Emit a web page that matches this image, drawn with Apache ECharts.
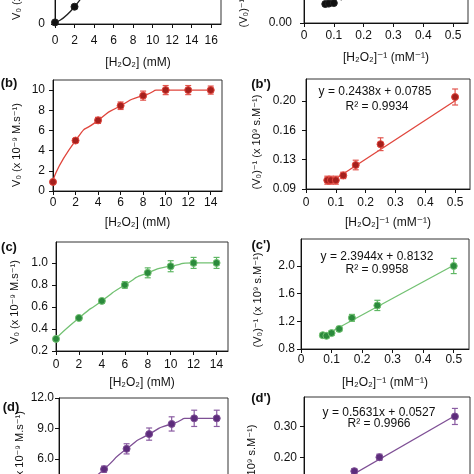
<!DOCTYPE html>
<html><head><meta charset="utf-8">
<script src="https://cdn.jsdelivr.net/npm/echarts@6/dist/echarts.min.js"></script>
<style>html,body{margin:0;padding:0;background:#fff}#c{width:474px;height:474px}</style>
</head><body><div id="c"></div>
<script>
// ---- data ----
const xConc = [0, 2, 4, 6, 8, 10, 12, 14];
const xInv = [0.0714, 0.0833, 0.1, 0.125, 0.1667, 0.25, 0.5];

const aV0 = [0.3, 3.2, 9.0, 13.0, 15.5, 17.0, 17.8, 18.2];
const aInvV0 = [0.1, 0.102, 0.105, 0.14, 0.17, 0.23, 0.36];

const bV0 = [0.9, 5.0, 7.0, 8.45, 9.45, 10.0, 10.0, 10.0];
const bV0Err = [0.15, 0.15, 0.3, 0.37, 0.45, 0.45, 0.45, 0.4];
const bInvV0 = [0.101, 0.101, 0.101, 0.107, 0.12, 0.146, 0.205];
const bInvErr = [0.005, 0.005, 0.005, 0.004, 0.006, 0.008, 0.01];
const bFit = { m: 0.2438, c: 0.0785, r2: '0.9934' };

const cV0 = [0.31, 0.5, 0.655, 0.8, 0.91, 0.97, 1.0, 1.0];
const cV0Err = [0.015, 0.01, 0.02, 0.03, 0.045, 0.05, 0.05, 0.05];
const cInvV0 = [1.0, 0.99, 1.03, 1.09, 1.25, 1.43, 2.0];
const cInvErr = [0.03, 0.03, 0.03, 0.035, 0.05, 0.074, 0.11];
const cFit = { m: 2.3944, c: 0.8132, r2: '0.9958' };

const dV0 = [0.8, 3.0, 5.0, 7.0, 8.45, 9.45, 10.0, 10.0];
const dV0Err = [0.2, 0.25, 0.3, 0.5, 0.6, 0.7, 0.8, 0.8];
const dInvV0 = [0.1, 0.1, 0.11, 0.125, 0.155, 0.2, 0.332];
const dInvErr = [0.005, 0.005, 0.006, 0.006, 0.008, 0.01, 0.026];
const dFit = { m: 0.5631, c: 0.0527, r2: '0.9966' };

const xConcTitle = '[H\u2082O\u2082] (mM)';
const xInvTitle = '[H\u2082O\u2082]\u207B\u00B9 (mM\u207B\u00B9)';
const yV0Title = 'V\u2080 (x 10\u207B\u2079 M.s\u207B\u00B9)';
const yInvTitle = '(V\u2080)\u207B\u00B9 (x 10\u2079 s.M\u207B\u00B9)';
const panelLabels = ['(b)', "(b')", '(c)', "(c')", '(d)', "(d')"];

// ---- styling ----
const FONT = "'Liberation Sans', Arial, 'DejaVu Sans', sans-serif";
const K = { line: '#222', pt: '#111', err: '#222' };
const R = { line: '#e0453c', pt: '#a5201d', err: '#e2554e' };
const G = { line: '#72c172', pt: '#2b8a3c', err: '#5fb764' };
const P = { line: '#7e4f95', pt: '#5d2c7c', err: '#8a5ca2' };

const grids = [
  { left: 55, top: -84, width: 166, height: 108 },
  { left: 304, top: -91, width: 164, height: 114 },
  { left: 53, top: 80, width: 169, height: 111 },
  { left: 306, top: 79, width: 164, height: 110 },
  { left: 56, top: 242, width: 172, height: 109 },
  { left: 301, top: 239, width: 168, height: 110 },
  { left: 59, top: 398, width: 169, height: 122 },
  { left: 304, top: 397, width: 166, height: 122 }
].map(g => Object.assign({ show: true, borderColor: '#333', borderWidth: 1, backgroundColor: 'transparent',
  containLabel: false, outerBoundsMode: 'none' }, g));

// per-panel label spacing (layout only)
const xLabelMargin = [11, 7, 6, 8, 8, 5, 6, 6];
const xNameGap = [33, 29, 26, 28, 26, 28, 26, 28];
const yLabelMargin = [10, 12, 8, 10, 8, 6, 5, 7];

const axisBase = {
  axisLine: { show: true, lineStyle: { color: '#111', width: 1 } },
  axisTick: { show: true, inside: false, length: 4, lineStyle: { color: '#111' } },
  splitLine: { show: false },
  nameLocation: 'middle',
  nameTextStyle: { fontFamily: FONT, fontSize: 12, color: '#111' }
};
function lbl(fmt, hideMax, margin) {
  return { fontFamily: FONT, fontSize: 12, color: '#111', margin: margin, formatter: fmt, showMaxLabel: !hideMax };
}
const fInt = v => String(Math.round(v));
const f1 = v => v.toFixed(1);
const f2 = v => v.toFixed(2);
const fInv = v => (Math.abs(v) < 1e-9 ? '0' : String(+v.toFixed(1)));

const xAxes = [];
const yAxes = [];
const yCfg = [
  { min: 0, max: 20, interval: 5, f: fInt, hide: true },
  { min: 0, max: 0.6, interval: 0.2, f: f2, hide: true },
  { min: 0, max: 11, interval: 2, f: fInt, hide: true },
  { min: 0.09, max: 0.2275, interval: 0.11 / 3, f: f2, hide: true },
  { min: 0.2, max: 1.19, interval: 0.2, f: f1, hide: true },
  { min: 0.8, max: 2.39, interval: 0.4, f: f1, hide: true },
  { min: 0, max: 12, interval: 3, f: f1, hide: false },
  { min: 0, max: 0.395, interval: 0.1, f: f2, hide: true }
];
for (let i = 0; i < 8; i++) {
  const inv = i % 2 === 1;
  xAxes.push(Object.assign({}, axisBase, {
    type: 'value', gridIndex: i,
    min: 0, max: inv ? 0.55 : (i === 0 ? 17 : 15), interval: inv ? 0.1 : 2,
    name: inv ? xInvTitle : xConcTitle, nameGap: xNameGap[i],
    axisLabel: lbl(inv ? fInv : fInt, true, xLabelMargin[i])
  }));
  const y = yCfg[i];
  yAxes.push(Object.assign({}, axisBase, {
    type: 'value', gridIndex: i, min: y.min, max: y.max, interval: y.interval,
    axisLabel: lbl(y.f, y.hide, yLabelMargin[i])
  }));
}

function errSeries(i, xs, ys, es, col) {
  return {
    type: 'custom', xAxisIndex: i, yAxisIndex: i, z: 3, silent: true,
    data: xs.map((x, k) => [x, ys[k], es[k]]),
    renderItem: (params, api) => {
      const x = api.value(0), y = api.value(1), e = api.value(2);
      const p1 = api.coord([x, y - e]), p2 = api.coord([x, y + e]);
      const st = { stroke: col, lineWidth: 1.2 };
      return { type: 'group', children: [
        { type: 'line', shape: { x1: p1[0], y1: p1[1], x2: p2[0], y2: p2[1] }, style: st },
        { type: 'line', shape: { x1: p1[0] - 3, y1: p1[1], x2: p1[0] + 3, y2: p1[1] }, style: st },
        { type: 'line', shape: { x1: p2[0] - 3, y1: p2[1], x2: p2[0] + 3, y2: p2[1] }, style: st }
      ] };
    }
  };
}
function ptSeries(i, xs, ys, col) {
  return {
    type: 'scatter', xAxisIndex: i, yAxisIndex: i, z: 4, symbolSize: 7,
    itemStyle: { color: col.pt, borderColor: col.line, borderWidth: 1, opacity: 1 },
    data: xs.map((x, k) => [x, ys[k]])
  };
}
function curveSeries(i, xs, ys, col) {
  return {
    type: 'line', xAxisIndex: i, yAxisIndex: i, z: 2, smooth: 0.8,
    showSymbol: false, lineStyle: { color: col.line, width: 1.3 },
    data: xs.map((x, k) => [x, ys[k]])
  };
}
function fitSeries(i, xs, fit, col) {
  const x0 = Math.min(...xs), x1 = Math.max(...xs);
  return {
    type: 'line', xAxisIndex: i, yAxisIndex: i, z: 2, showSymbol: false,
    lineStyle: { color: col.line, width: 1.3 },
    data: [[x0, fit.m * x0 + fit.c], [x1, fit.m * x1 + fit.c]]
  };
}

const series = [
  curveSeries(0, xConc, aV0, K), ptSeries(0, xConc, aV0, K),
  ptSeries(1, xInv, aInvV0, K),
  curveSeries(2, xConc, bV0, R), errSeries(2, xConc, bV0, bV0Err, R.err), ptSeries(2, xConc, bV0, R),
  fitSeries(3, xInv, bFit, R), errSeries(3, xInv, bInvV0, bInvErr, R.err), ptSeries(3, xInv, bInvV0, R),
  curveSeries(4, xConc, cV0, G), errSeries(4, xConc, cV0, cV0Err, G.err), ptSeries(4, xConc, cV0, G),
  fitSeries(5, xInv, cFit, G), errSeries(5, xInv, cInvV0, cInvErr, G.err), ptSeries(5, xInv, cInvV0, G),
  curveSeries(6, xConc, dV0, P), errSeries(6, xConc, dV0, dV0Err, P.err), ptSeries(6, xConc, dV0, P),
  fitSeries(7, xInv, dFit, P), errSeries(7, xInv, dInvV0, dInvErr, P.err), ptSeries(7, xInv, dInvV0, P)
];

function txt(x, y, text, opts) {
  return Object.assign({
    type: 'text', x: x, y: y, z: 10, silent: true,
    style: Object.assign({ text: text, fontFamily: FONT, fontSize: 12, fill: '#111',
      align: 'center', verticalAlign: 'middle', textAlign: 'center', textVerticalAlign: 'middle' }, opts || {})
  });
}
function vtxt(x, y, text) {
  const t = txt(x, y, text, { fontSize: 11 });
  t.rotation = Math.PI / 2;
  return t;
}
function eqText(fit) {
  return 'y = ' + fit.m.toFixed(4) + 'x + ' + fit.c.toFixed(4);
}
const graphic = [
  vtxt(17, -22, yV0Title), vtxt(244, -20, yInvTitle),
  vtxt(17, 145, yV0Title), vtxt(257, 142, yInvTitle),
  vtxt(15, 302, yV0Title), vtxt(258, 300, yInvTitle),
  vtxt(20, 453, yV0Title), vtxt(252, 472, yInvTitle),
  txt(9, 83, panelLabels[0], { fontSize: 13, fontWeight: 'bold' }),
  txt(261, 84, panelLabels[1], { fontSize: 13, fontWeight: 'bold' }),
  txt(9, 247, panelLabels[2], { fontSize: 13, fontWeight: 'bold' }),
  txt(261, 245, panelLabels[3], { fontSize: 13, fontWeight: 'bold' }),
  txt(11, 407, panelLabels[4], { fontSize: 13, fontWeight: 'bold' }),
  txt(261, 398, panelLabels[5], { fontSize: 13, fontWeight: 'bold' }),
  txt(375, 92, eqText(bFit)), txt(377, 107, 'R\u00B2 = ' + bFit.r2),
  txt(377, 257, eqText(cFit)), txt(377, 270, 'R\u00B2 = ' + cFit.r2),
  txt(379, 413, eqText(dFit)), txt(379, 424, 'R\u00B2 = ' + dFit.r2)
];

const chart = echarts.init(document.getElementById('c'), null, { renderer: 'canvas' });
chart.setOption({
  animation: false,
  backgroundColor: '#fff',
  grid: grids,
  xAxis: xAxes,
  yAxis: yAxes,
  series: series,
  graphic: graphic
});
</script>
</body></html>
